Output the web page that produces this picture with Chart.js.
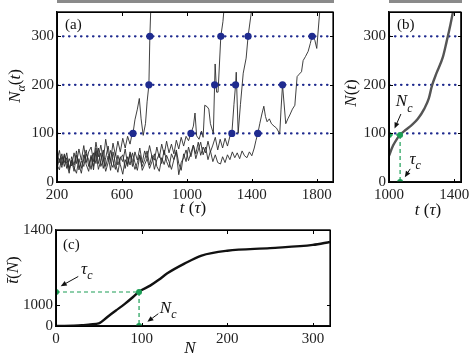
<!DOCTYPE html>
<html><head><meta charset="utf-8">
<script src="https://cdn.jsdelivr.net/npm/chart.js@4/dist/chart.umd.min.js"></script>
<style>
html,body{margin:0;padding:0;background:#fff;width:474px;height:360px;overflow:hidden;position:relative}
canvas{position:absolute}
#ca{left:0;top:0}
#cb{left:340px;top:0}
#cc{left:0;top:218px}
</style></head>
<body>
<canvas id="ca" width="340" height="218"></canvas>
<canvas id="cb" width="134" height="218"></canvas>
<canvas id="cc" width="474" height="142"></canvas>
<script>
// ---------- DATA ----------
const aXTicks = [200, 600, 1000, 1400, 1800];
const aXRange = [200, 1900];
const nYTicks = [0, 100, 200, 300];
const nYRange = [0, 350];
const levels = [100, 200, 300];
const t1 = [200,215,230,245,260,275,290,305,320,335,350,365,380,395,410,425,440,455,470,485,500,515,530,545,560,575,590,605,620,635,650,660,668,680,695,707,718,731,745,755,766,772,780];
const n1 = [45,65,35,55,28,48,33,60,38,68,45,75,40,62,72,42,82,52,76,45,88,58,44,80,55,84,62,90,70,94,78,95,100,128,150,172,130,96,120,165,200,300,380];
const t2 = [200,215,230,245,260,275,290,305,320,335,350,365,380,395,410,425,440,455,470,485,500,515,530,545,560,575,590,605,620,635,650,665,680,695,710,725,740,755,770,785,800,815,830,845,860,875,890,905,920,935,950,965,980,995,1010,1025,1040,1050,1060,1075,1090,1100,1110,1125,1135,1145,1163,1174,1183,1192,1209,1222,1235];
const n2 = [35,25,52,40,60,28,45,22,55,36,18,48,66,32,55,25,70,38,60,28,50,74,40,30,60,35,52,42,68,36,58,32,62,45,70,40,64,48,75,52,45,72,50,78,56,84,60,78,58,86,68,92,74,94,85,100,115,142,95,88,105,92,158,155,150,120,100,243,185,185,300,330,380];
const t3 = [200,215,230,245,260,275,290,305,320,335,350,365,380,395,410,425,440,455,470,485,500,515,530,545,560,575,590,605,620,635,650,665,680,695,710,725,740,755,770,785,800,815,830,845,860,875,890,905,920,935,950,965,980,995,1010,1025,1040,1055,1070,1085,1100,1115,1130,1145,1160,1175,1190,1205,1220,1235,1250,1265,1277,1290,1300,1304,1316,1330,1347,1365,1377,1398,1410];
const n3 = [62,40,58,32,50,25,42,30,18,48,28,56,36,22,52,32,62,26,44,66,32,54,24,62,38,20,48,56,28,52,35,60,40,24,54,32,46,64,35,55,26,46,58,38,66,42,30,58,46,66,38,24,58,42,72,52,76,58,82,55,72,60,84,62,76,92,66,88,70,90,74,94,100,160,200,226,101,160,224,255,300,352,400];
const t4 = [200,215,230,245,260,275,290,305,320,335,350,365,380,395,410,425,440,455,470,485,500,515,530,545,560,575,590,605,620,635,650,665,680,695,710,725,740,755,770,785,800,815,830,845,860,875,890,905,920,935,950,965,980,995,1010,1025,1040,1055,1070,1085,1100,1115,1130,1145,1160,1175,1190,1207,1220,1235,1250,1265,1280,1295,1310,1325,1340,1355,1370,1385,1400,1415,1425,1437,1449,1462,1474,1484,1494,1508,1521,1537,1552,1572,1580,1589,1609,1622,1634,1650,1665,1679,1692,1706,1716,1730,1747,1760,1771,1788,1800,1818,1830];
const n4 = [28,48,30,58,38,18,52,35,64,25,44,32,58,46,26,60,38,70,32,46,22,40,65,44,26,55,36,16,46,32,62,44,26,40,56,24,36,48,28,42,58,32,22,50,36,55,42,26,46,62,15,40,50,66,44,60,76,48,66,82,56,72,46,64,42,56,40,37,52,40,56,46,62,50,60,48,64,54,50,62,54,70,85,100,120,140,156,135,124,130,120,115,111,99,150,200,120,130,138,150,158,217,222,227,250,258,269,285,300,292,275,350,390];
const cross100 = [668, 1025, 1277, 1437];
const cross200 = [766, 1171, 1300, 1589];
const cross300 = [772, 1209, 1377, 1771];
const bXTicks = [1000, 1400];
const bXRange = [1000, 1440];
const bT = [1000,1025,1053,1067,1101,1139,1177,1215,1244,1263,1291,1330,1353,1377,1395];
const bN = [54,75,91,97,107,117,130,150,172,198,224,257,289,325,355];
const tauC = 1068;
const nC = 97;
const cXTicks = [0, 100, 200, 300];
const cXRange = [0, 320];
const cYTicks = [0, 1000, 1400];
const cYRange = [0, 1400];
const cYBreak = 1000;
const cN = [0,10,20,30,40,50,60,70,80,90,97,110,120,130,150,170,200,250,300,320];
const cT = [0,3,12,32,77,123,423,727,1003,1041,1070,1102,1133,1168,1220,1263,1289,1303,1320,1336];

// ---------- custom broken linear scale ----------
class BrokenLinearScale extends Chart.LinearScale {
  _frac(){ const f = this.options.breakFraction; return (typeof f === 'number') ? f : 0.2222; }
  _brk(){ const b = this.options.breakAt; return (typeof b === 'number') ? b : cYBreak; }
  getPixelForValue(v) {
    const b = this._brk(), f = this._frac();
    let d;
    if (v <= b) d = (v - this.min) / (b - this.min) * f;
    else d = f + (v - b) / (this.max - b) * (1 - f);
    return this.getPixelForDecimal(d);
  }
  getValueForPixel(p) {
    const d = this.getDecimalForPixel(p), b = this._brk(), f = this._frac();
    return d <= f ? this.min + d / f * (b - this.min) : b + (d - f) / (1 - f) * (this.max - b);
  }
}
BrokenLinearScale.id = 'brokenLinear';
BrokenLinearScale.defaults = Chart.LinearScale.defaults;
Chart.register(BrokenLinearScale);

const FONT = '"Liberation Serif", "DejaVu Serif", serif';
const INK = '#000';

const xy = (xs, ys) => xs.map((x, i) => ({x: x, y: ys[i]}));

function rich(ctx, x, y, segs, size, rot) {
  ctx.save();
  ctx.translate(x, y);
  if (rot) ctx.rotate(rot);
  const fonts = segs.map(s => (s.i ? 'italic ' : '') + (s.sub ? Math.round(size * 0.68) : size) + 'px ' + FONT);
  let w = 0;
  const ws = segs.map((s, k) => { ctx.font = fonts[k]; const m = ctx.measureText(s.t).width; w += m; return m; });
  let cx = -w / 2;
  ctx.textBaseline = 'alphabetic';
  ctx.textAlign = 'left';
  ctx.fillStyle = '#111';
  segs.forEach((s, k) => { ctx.font = fonts[k]; ctx.fillText(s.t, cx, size * 0.33 + (s.sub ? size * 0.3 : 0)); cx += ws[k]; });
  ctx.restore();
}
function arrow(ctx, x1, y1, x2, y2) {
  ctx.save();
  ctx.setLineDash([]);
  ctx.strokeStyle = '#111'; ctx.fillStyle = '#111'; ctx.lineWidth = 1;
  const a = Math.atan2(y2 - y1, x2 - x1), L = 6, W = 2.6;
  const bx = x2 - L * Math.cos(a), by = y2 - L * Math.sin(a);
  ctx.beginPath(); ctx.moveTo(x1, y1); ctx.lineTo(bx, by); ctx.stroke();
  ctx.beginPath(); ctx.moveTo(x2, y2);
  ctx.lineTo(bx + W * Math.sin(a), by - W * Math.cos(a));
  ctx.lineTo(bx - W * Math.sin(a), by + W * Math.cos(a));
  ctx.closePath(); ctx.fill();
  ctx.restore();
}

function frameAndTicks(chart, topGray) {
  const ctx = chart.ctx, a = chart.chartArea, sx = chart.scales.x, sy = chart.scales.y;
  const L = Math.round(a.left), R = Math.round(a.right), T = Math.round(a.top), B = Math.round(a.bottom);
  ctx.save();
  ctx.setLineDash([]);
  ctx.globalAlpha = 1;
  ctx.fillStyle = INK;
  // box edges as filled 1px rectangles
  ctx.fillRect(L, T, R - L + 1, 1);
  ctx.fillRect(L, B, R - L + 1, 1);
  ctx.fillRect(L, T, 1, B - T + 1);
  ctx.fillRect(R, T, 1, B - T + 1);
  sx.ticks.forEach(t => { const p = Math.round(sx.getPixelForValue(t.value));
    ctx.fillRect(p, B - 3, 1, 3); ctx.fillRect(p, T + 1, 1, 3); });
  sy.ticks.forEach(t => { const p = Math.round(sy.getPixelForValue(t.value));
    ctx.fillRect(L + 1, p, 3, 1); ctx.fillRect(R - 3, p, 3, 1); });
  if (topGray) {
    ctx.fillStyle = '#8a8a8a';
    ctx.fillRect(L, 0, R - L + 1, 3);
  }
  ctx.restore();
}

function frameDataset(xr, yr) {
  return { data: [{ x: xr[0], y: yr[0] }, { x: xr[1], y: yr[0] }, { x: xr[1], y: yr[1] }, { x: xr[0], y: yr[1] }, { x: xr[0], y: yr[0] }],
           showLine: true, borderColor: '#111', borderWidth: 1.3, pointRadius: 0, tension: 0, clip: false, order: 0 };
}

function panel(id, area, xs, ys, datasets, extra) {
  const cv = document.getElementById(id);
  const W = cv.width, H = cv.height, yW = 40, xH = 20;
  const tickFont = { size: 15, family: FONT };
  return new Chart(cv, {
    type: 'scatter',
    data: { datasets: [frameDataset(xs.range, ys.range)].concat(datasets) },
    options: {
      responsive: false, animation: false, devicePixelRatio: 1,
      layout: { autoPadding: false, padding: { left: area.left - yW, right: W - area.right, top: area.top, bottom: H - area.bottom - xH } },
      plugins: { legend: { display: false }, tooltip: { enabled: false } },
      elements: { point: { radius: 0 } },
      scales: {
        x: { type: 'linear', position: 'bottom', min: xs.range[0], max: xs.range[1],
             grid: { display: false, drawTicks: false }, border: { display: true, color: INK, width: 1.3 },
             afterBuildTicks: s => { s.ticks = xs.ticks.map(v => ({ value: v })); },
             afterFit: s => { s.height = xH; },
             ticks: { padding: 4, color: '#222', font: tickFont, maxRotation: 0, autoSkip: false, callback: v => String(v) } },
        y: Object.assign({ type: 'linear', position: 'left', min: ys.range[0], max: ys.range[1],
             grid: { display: false, drawTicks: false }, border: { display: true, color: INK, width: 1.3 },
             afterBuildTicks: s => { s.ticks = ys.ticks.map(v => ({ value: v })); },
             afterFit: s => { s.width = yW; },
             ticks: { padding: 3, color: '#222', font: tickFont, autoSkip: false, callback: v => String(v) } }, ys.extra || {})
      }
    },
    plugins: [{ id: 'extra_' + id, afterDraw(chart) { extra(chart); } }]
  });
}

const TRAJ = { showLine: true, borderColor: '#2b2b2b', borderWidth: 0.9, pointRadius: 0, tension: 0, order: 5 };
const BLUE = '#1f2b8f';
function dottedLevel(level, xr) {
  return { data: [{ x: xr[0], y: level }, { x: xr[1], y: level }], showLine: true, borderColor: BLUE,
           borderWidth: 2.2, borderDash: [0.5, 5.5], borderCapStyle: 'round', pointRadius: 0, order: 9 };
}
const GREEN = '#1c9e56';
function greenLine(pts) {
  return { data: pts, showLine: true, borderColor: GREEN, borderWidth: 1.2, borderDash: [4, 3], pointRadius: 0, order: 3 };
}
function greenDots(pts) {
  return { data: pts, showLine: false, pointRadius: 3, pointBackgroundColor: GREEN, pointBorderWidth: 0, order: 1 };
}
function label(ctx, txt, x, y) {
  ctx.save(); ctx.font = '15px ' + FONT; ctx.fillStyle = '#111'; ctx.textBaseline = 'middle'; ctx.textAlign = 'left';
  ctx.fillText(txt, x, y); ctx.restore();
}

// ---------- panel (a) ----------
panel('ca', { left: 57, right: 333, top: 3, bottom: 182 },
  { range: aXRange, ticks: aXTicks }, { range: nYRange, ticks: nYTicks },
  [
    { data: [].concat(cross100.map(t => ({ x: t, y: levels[0] })), cross200.map(t => ({ x: t, y: levels[1] })), cross300.map(t => ({ x: t, y: levels[2] }))),
      showLine: false, pointRadius: 3.6, pointBackgroundColor: BLUE, pointBorderWidth: 0, order: 1 },
    Object.assign({ data: xy(t1, n1) }, TRAJ),
    Object.assign({ data: xy(t2, n2) }, TRAJ),
    Object.assign({ data: xy(t3, n3) }, TRAJ),
    Object.assign({ data: xy(t4, n4) }, TRAJ),
  ].concat(levels.map(l => dottedLevel(l, aXRange))),
  chart => {
    const ctx = chart.ctx, a = chart.chartArea;
    frameAndTicks(chart, true);
    label(ctx, '(a)', a.left + 8, a.top + 13);
    rich(ctx, 14, 86, [{ t: 'N', i: 1 }, { t: 'α', i: 1, sub: 1 }, { t: '(', }, { t: 't', i: 1 }, { t: ')' }], 17, -Math.PI / 2);
    rich(ctx, 193, 207, [{ t: 't', i: 1 }, { t: ' (' }, { t: 'τ', i: 1 }, { t: ')' }], 17);
  });

// ---------- panel (b) ----------
panel('cb', { left: 49, right: 126, top: 3, bottom: 182 },
  { range: bXRange, ticks: bXTicks }, { range: nYRange, ticks: nYTicks },
  [
    greenDots([{ x: bXRange[0], y: nC }, { x: tauC, y: nC }, { x: tauC, y: 0 }]),
    { data: xy(bT, bN), showLine: true, borderColor: '#555', borderWidth: 2.4, pointRadius: 0, cubicInterpolationMode: 'monotone', order: 2 },
    greenLine([{ x: bXRange[0], y: nC }, { x: tauC, y: nC }]),
    greenLine([{ x: tauC, y: nC }, { x: tauC, y: 0 }]),
  ].concat(levels.map(l => dottedLevel(l, bXRange))),
  chart => {
    const ctx = chart.ctx, a = chart.chartArea, sx = chart.scales.x, sy = chart.scales.y;
    frameAndTicks(chart, true);
    label(ctx, '(b)', a.left + 8, a.top + 13);
    rich(ctx, 10, 93, [{ t: 'N', i: 1 }, { t: '(' }, { t: 't', i: 1 }, { t: ')' }], 17, -Math.PI / 2);
    rich(ctx, 88, 209, [{ t: 't', i: 1 }, { t: ' (' }, { t: 'τ', i: 1 }, { t: ')' }], 17);
    const P = (x, y) => [sx.getPixelForValue(x), sy.getPixelForValue(y)];
    let p = P(1093, 167); rich(ctx, p[0], p[1], [{ t: 'N', i: 1 }, { t: 'c', i: 1, sub: 1 }], 17);
    let q1 = P(1073, 140), q2 = P(1034, 110); arrow(ctx, q1[0], q1[1], q2[0], q2[1]);
    p = P(1160, 49); rich(ctx, p[0], p[1], [{ t: 'τ', i: 1 }, { t: 'c', i: 1, sub: 1 }], 17);
    q1 = P(1130, 27); q2 = P(1097, 10); arrow(ctx, q1[0], q1[1], q2[0], q2[1]);
  });

// ---------- panel (c) ----------
panel('cc', { left: 56, right: 330, top: 9, bottom: 108 },
  { range: cXRange, ticks: cXTicks }, { range: cYRange, ticks: cYTicks, extra: { type: 'brokenLinear', breakAt: cYBreak, breakFraction: 0.2222 } },
  [
    greenDots([{ x: 0, y: tauC }, { x: nC, y: tauC }, { x: nC, y: 0 }]),
    { data: xy(cN, cT), showLine: true, borderColor: '#111', borderWidth: 2.4, pointRadius: 0, cubicInterpolationMode: 'monotone', order: 2 },
    greenLine([{ x: 0, y: tauC }, { x: nC, y: tauC }]),
    greenLine([{ x: nC, y: tauC }, { x: nC, y: 0 }]),
  ],
  chart => {
    const ctx = chart.ctx, a = chart.chartArea, sx = chart.scales.x, sy = chart.scales.y;
    frameAndTicks(chart, false);
    label(ctx, '(c)', a.left + 7, a.top + 15);
    rich(ctx, 12, 52, [{ t: 't\u0304', i: 1 }, { t: '(' }, { t: 'N', i: 1 }, { t: ')' }], 17, -Math.PI / 2);
    rich(ctx, 190, 129, [{ t: 'N', i: 1 }], 17);
    const P = (x, y) => [sx.getPixelForValue(x), sy.getPixelForValue(y)];
    let p = P(36, 1194); rich(ctx, p[0], p[1], [{ t: 'τ', i: 1 }, { t: 'c', i: 1, sub: 1 }], 17);
    let q1 = P(26, 1151), q2 = P(5.5, 1099); arrow(ctx, q1[0], q1[1], q2[0], q2[1]);
    p = P(131, 877); rich(ctx, p[0], p[1], [{ t: 'N', i: 1 }, { t: 'c', i: 1, sub: 1 }], 17);
    q1 = P(119.5, 577); q2 = P(106.7, 195); arrow(ctx, q1[0], q1[1], q2[0], q2[1]);
  });
</script>
</body></html>
